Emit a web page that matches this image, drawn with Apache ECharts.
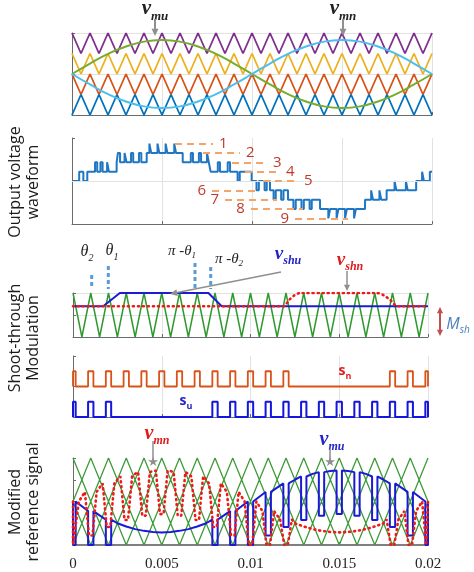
<!DOCTYPE html>
<html>
<head>
<meta charset="utf-8">
<script src="https://cdn.jsdelivr.net/npm/echarts@6/dist/echarts.min.js"></script>
<style>
  html, body { margin: 0; padding: 0; background: #fff; }
  #chart { width: 474px; height: 572px; }
</style>
</head>
<body>
<div id="chart"></div>
<script>
// Time axis is in ms (0..20 ms); tick labels are shown in seconds.
var xTickValues = [0, 5, 10, 15, 20];
var xTickLabels = ['0', '0.005', '0.01', '0.015', '0.02'];

// Carrier vertices (ms), 1 kHz triangle
var carrierT = [0, 0.5, 1, 1.5, 2, 2.5, 3, 3.5, 4, 4.5, 5, 5.5, 6, 6.5, 7, 7.5, 8, 8.5, 9, 9.5,
                10, 10.5, 11, 11.5, 12, 12.5, 13, 13.5, 14, 14.5, 15, 15.5, 16, 16.5, 17, 17.5,
                18, 18.5, 19, 19.5, 20];

// Panel 1: four level-shifted carriers + two references
var topBands = [[3, 4], [2, 3], [1, 2], [0, 1]];
var topPhase = [1, 1, 1, 0];            // 1 = starts on a peak
var sineT = [0, 1, 2, 3, 4, 5, 6, 7, 8, 9, 10, 11, 12, 13, 14, 15, 16, 17, 18, 19, 20];
var vmuTop = [2, 2.51, 2.98, 3.34, 3.58, 3.66, 3.58, 3.34, 2.98, 2.51, 2, 1.49, 1.02, 0.66, 0.42, 0.34, 0.42, 0.66, 1.02, 1.49, 2];
var vmnTop = [2, 1.49, 1.02, 0.66, 0.42, 0.34, 0.42, 0.66, 1.02, 1.49, 2, 2.51, 2.98, 3.34, 3.58, 3.66, 3.58, 3.34, 2.98, 2.51, 2];

// Panel 2: output voltage steps [t, level]
var outSteps = [
  [0, 0], [0.4, 1], [0.63, 0], [0.85, 1], [1.28, 2], [1.4, 1], [1.58, 2], [1.7, 1], [1.95, 2], [2.05, 1],
  [2.48, 2], [2.55, 3], [2.67, 2], [2.92, 3], [3.03, 2], [3.28, 3], [3.4, 2], [3.72, 3], [3.85, 2],
  [4.15, 3], [4.3, 4], [4.4, 3], [4.75, 4], [4.85, 3], [5.2, 4], [5.3, 3], [5.68, 4], [5.78, 3],
  [6.15, 2], [6.6, 3], [6.72, 2], [7.05, 3], [7.17, 2], [7.5, 3], [7.6, 2],
  [7.7, 1], [8.1, 2], [8.22, 1], [8.65, 2], [8.78, 1], [9.2, 0], [9.32, 1],
  [9.98, 0], [10.25, -1], [10.38, 0], [10.7, -1], [10.82, 0],
  [11.0, -1], [11.2, -2], [11.32, -1], [11.62, -2], [11.75, -1],
  [12.0, -2], [12.3, -3], [12.43, -2], [12.75, -3], [12.88, -2], [13.2, -3], [13.32, -2],
  [13.78, -3], [14.24, -4], [14.34, -3], [14.7, -4], [14.8, -3], [15.17, -4], [15.27, -3], [15.67, -4], [15.77, -3],
  [16.28, -2], [16.62, -1], [16.72, -2], [17.08, -1], [17.18, -2],
  [17.48, -1], [17.92, 0], [18.02, -1], [18.55, 0], [18.65, -1],
  [19.12, 0], [19.45, 1], [19.55, 0], [19.88, 1], [20, 1]
];
var levelNames = ['1', '2', '3', '4', '5', '6', '7', '8', '9'];
var levelValues = [4, 3, 2, 1, 0, -1, -2, -3, -4];
var levelFrom = [5.72, 7.28, 8.89, 9.61, 10.61, 7.78, 8.5, 9.94, 12.39];
var levelTo = [7.83, 9.33, 10.83, 11.56, 12.56, 10.28, 11.39, 12.83, 15.33];

// Panel 3: shoot-through references
var shuT = [0, 1.7, 2.64, 7.63, 8.38, 20];
var shuV = [0.7, 0.7, 1, 1, 0.7, 0.7];
var shnT = [0, 11.86, 12.15, 12.45, 12.8, 17.1, 17.5, 17.9, 18.27, 20];
var shnV = [0.7, 0.7, 0.83, 0.94, 1, 1, 0.95, 0.83, 0.7, 0.7];

// Panel 4: shoot-through pulse centres (ms)
var snPulses = [0, 1, 2, 3, 4, 5, 6, 7, 8, 9, 10, 11, 12, 18, 19, 20];
var suPulses = [0, 1, 2, 8, 9, 10, 11, 12, 13, 14, 15, 16, 17, 18, 19, 20];
var pulseHalf = 0.15;

// Panel 5: modified references
var lowBands = [[3, 4], [2, 3], [1, 2], [0, 1]];
var lowPhase = [1, 0, 1, 0];
var refT = carrierT;
var vmnRef = [2, 2.22, 2.44, 2.64, 2.83, 3.0, 3.15, 3.27, 3.35, 3.40, 3.42, 3.40, 3.35, 3.27, 3.15, 3.0, 2.83, 2.64, 2.44, 2.22,
              2.0, 1.78, 1.56, 1.36, 1.17, 1.0, 0.85, 0.73, 0.65, 0.60, 0.58, 0.60, 0.65, 0.73, 0.85, 1.0, 1.17, 1.36, 1.56, 1.78, 2.0];
var vmuRef = [2, 1.78, 1.56, 1.36, 1.17, 1.0, 0.85, 0.73, 0.65, 0.60, 0.58, 0.60, 0.65, 0.73, 0.85, 1.0, 1.17, 1.36, 1.56, 1.78,
              2.0, 2.22, 2.44, 2.64, 2.83, 3.0, 3.15, 3.27, 3.35, 3.40, 3.42, 3.40, 3.35, 3.27, 3.15, 3.0, 2.83, 2.64, 2.44, 2.22, 2.0];
var notchDepth = 2;

// --- helpers ----------------------------------------------------------------

function carrierData(band, startHigh) {
  return carrierT.map(function (t, i) {
    var high = (i % 2 === 0) === !!startHigh;
    return [t, high ? band[1] : band[0]];
  });
}

function zip(ts, vs) {
  return ts.map(function (t, i) { return [t, vs[i]]; });
}

function pulseTrain(centres, lo, hi) {
  var pts = [[0, lo]];
  centres.forEach(function (c) {
    var a = Math.max(0, c - pulseHalf), b = Math.min(20, c + pulseHalf);
    pts.push([a, lo], [a, hi], [b, hi], [b, lo]);
  });
  pts.push([20, lo]);
  return pts;
}

function notched(vals, centres, topHalf, botHalf) {
  var pts = [];
  refT.forEach(function (t, i) {
    var v = vals[i];
    if (centres.indexOf(t) >= 0) {
      var low = Math.max(0, v - notchDepth);
      pts.push([Math.max(0, t - topHalf), v], [Math.max(0, t - botHalf), low],
               [Math.min(20, t + botHalf), low], [Math.min(20, t + topHalf), v]);
    } else {
      pts.push([t, v]);
    }
  });
  return pts;
}

var AXIS = '#6b6b6b';
var GRIDC = '#e2e2e2';

function xAx(i, showLabel) {
  return {
    type: 'value', gridIndex: i, min: 0, max: 20, interval: 5,
    axisLine: { show: true, onZero: false, lineStyle: { color: i === 4 ? '#555' : AXIS, width: i === 4 ? 1.5 : 1 } },
    axisTick: { show: true, inside: true, length: 3, lineStyle: { color: AXIS } },
    axisLabel: showLabel ? {
      show: true, margin: 12, color: '#222', fontSize: 15, fontFamily: '"Liberation Serif", serif',
      formatter: function (v) { var k = xTickValues.indexOf(v); return k >= 0 ? xTickLabels[k] : ''; }
    } : { show: false },
    splitLine: { show: i !== 4, lineStyle: { color: GRIDC } }
  };
}

function yAx(i, min, max, interval, split) {
  return {
    type: 'value', gridIndex: i, min: min, max: max, interval: interval,
    axisLine: { show: true, onZero: false, lineStyle: { color: AXIS } },
    axisTick: { show: true, inside: true, length: 3, lineStyle: { color: AXIS } },
    axisLabel: { show: false },
    splitLine: { show: split, lineStyle: { color: GRIDC } }
  };
}

function line(ax, data, color, width, extra) {
  var s = {
    type: 'line', xAxisIndex: ax, yAxisIndex: ax, data: data, symbol: 'none', silent: true,
    lineStyle: { color: color, width: width }
  };
  return Object.assign(s, extra || {});
}

// --- series -----------------------------------------------------------------

var series = [];
var topColors = ['#7e2f8e', '#edb120', '#d95319', '#0072bd'];
topBands.forEach(function (b, i) {
  series.push(line(0, carrierData(b, topPhase[i]), topColors[i], 1.8));
});
series.push(line(0, zip(sineT, vmuTop), '#77ac30', 2, { smooth: true }));
series.push(line(0, zip(sineT, vmnTop), '#4dbeee', 2, { smooth: true }));

// output voltage with level annotations
var marks = [{ yAxis: 0, lineStyle: { color: GRIDC, type: 'solid', width: 1 }, label: { show: false } }];
levelNames.forEach(function (n, i) {
  marks.push([
    { name: n, coord: [levelFrom[i], levelValues[i]], label: { position: i < 5 ? 'end' : 'start', distance: i < 5 ? 6 : 6 } },
    { coord: [levelTo[i], levelValues[i]] }
  ]);
});
series.push(line(1, outSteps, '#1f77c4', 2, {
  step: 'end', z: 3,
  markLine: {
    silent: true, symbol: ['none', 'none'], animation: false,
    lineStyle: { color: '#f2a56b', type: [7, 5], width: 2 },
    label: { show: true, formatter: '{b}', color: '#c0392b', fontSize: 15, fontFamily: '"Open Sans", sans-serif' },
    data: marks
  }
}));

// shoot-through modulation
series.push(line(2, carrierData([0, 1], 1), '#2e9a2e', 1.5));
series.push(line(2, zip(shuT, shuV), '#1c1cd0', 2));
series.push(line(2, zip(shnT, shnV), '#f01818', 2.6, { smooth: 0.3, lineStyle: { color: '#f01818', width: 2.6, type: [1, 4], cap: 'round' } }));

// switching signals
series.push(line(3, pulseTrain(snPulses, 2, 3), '#d95319', 1.8));
series.push(line(3, pulseTrain(suPulses, 0, 1), '#1515e0', 2));

// modified references
lowBands.forEach(function (b, i) {
  series.push(line(4, carrierData(b, lowPhase[i]), '#3f9b3a', 1.3));
});
series.push(line(4, notched(vmuRef, suPulses, pulseHalf, pulseHalf), '#1a1ad6', 2));
series.push(line(4, notched(vmnRef, snPulses, 0.33, 0.1), '#f01818', 2.6, { lineStyle: { color: '#f01818', width: 2.6, type: [1, 4], cap: 'round' } }));

// --- annotations ------------------------------------------------------------

var SERIF = '"Liberation Serif", "DejaVu Serif", serif';
var SANS = '"Open Sans", "Noto Sans", sans-serif';

function subText(x, y, main, sub, color, size, font, style) {
  return {
    type: 'text', x: x, y: y, z: 100,
    style: {
      text: '{a|' + main + '}{b|' + sub + '}', align: 'center', verticalAlign: 'middle',
      rich: {
        a: { fill: color, fontSize: size, fontFamily: font, fontStyle: style.fontStyle, fontWeight: style.fontWeight, lineHeight: size + 2, verticalAlign: 'top' },
        b: { fill: color, fontSize: Math.round(size * 0.62), fontFamily: font, fontStyle: style.fontStyle, fontWeight: style.fontWeight,
             lineHeight: Math.round(size * 0.62), padding: [Math.round(size * 0.55), 0, 0, 0], verticalAlign: 'top' }
      }
    }
  };
}

function arrow(x1, y1, x2, y2, color, w, head) {
  var a = Math.atan2(y2 - y1, x2 - x1);
  var h = head || 7;
  var p1 = [x2 - h * Math.cos(a - 0.45), y2 - h * Math.sin(a - 0.45)];
  var p2 = [x2 - h * Math.cos(a + 0.45), y2 - h * Math.sin(a + 0.45)];
  return [
    { type: 'line', z: 100, shape: { x1: x1, y1: y1, x2: x2 - 0.6 * h * Math.cos(a), y2: y2 - 0.6 * h * Math.sin(a) }, style: { stroke: color, lineWidth: w } },
    { type: 'polygon', z: 100, shape: { points: [[x2, y2], p1, p2] }, style: { fill: color } }
  ];
}

function vTitle(x, y, text) {
  return {
    type: 'text', x: x, y: y, rotation: Math.PI / 2, z: 100,
    style: { text: text, align: 'center', verticalAlign: 'middle', fill: '#1a1a1a', fontSize: 16, lineHeight: 18, fontFamily: SANS }
  };
}

var bi = { fontStyle: 'italic', fontWeight: 'bold' };
var it = { fontStyle: 'italic', fontWeight: 'normal' };
var GRAY = '#8f8f8f';

var graphics = [];
graphics.push(vTitle(24, 182, 'Output voltage\nwaveform'));
graphics.push(vTitle(24, 338, 'Shoot-through\nModulation'));
graphics.push(vTitle(24, 502, 'Modified\nreference signal'));

// panel 1 labels
graphics.push(subText(155, 10, 'v', 'mu', '#222', 21, SERIF, bi));
graphics.push(subText(343, 10, 'v', 'mn', '#222', 21, SERIF, bi));
graphics = graphics.concat(arrow(155, 19, 155, 36, GRAY, 2, 8));
graphics = graphics.concat(arrow(343, 19, 343, 36, GRAY, 2, 8));

// panel 3 labels
graphics.push(subText(87, 253, 'θ', '2', '#222', 16, SERIF, it));
graphics.push(subText(112, 252, 'θ', '1', '#222', 16, SERIF, it));
graphics.push(subText(182, 252, 'π -θ', '1', '#222', 15, SERIF, it));
graphics.push(subText(229, 260, 'π -θ', '2', '#222', 15, SERIF, it));
[[91.7, 275], [108.3, 266], [195, 263], [210.7, 267]].forEach(function (m) {
  graphics.push({ type: 'line', z: 100, shape: { x1: m[0], y1: m[1], x2: m[0], y2: 289 },
                  style: { stroke: '#5b9bd5', lineWidth: 3, lineDash: [4, 3] } });
});
graphics.push(subText(288, 255, 'v', 'shu', '#2323c8', 19, SERIF, bi));
graphics.push(subText(350, 261, 'v', 'shn', '#e01b1b', 19, SERIF, bi));
graphics = graphics.concat(arrow(281, 272, 170, 294, GRAY, 1.5, 8));
graphics = graphics.concat(arrow(347, 271, 347, 291, GRAY, 1.5, 7));
graphics = graphics.concat(arrow(440, 322, 440, 307, '#c0504d', 2, 7));
graphics = graphics.concat(arrow(440, 321, 440, 336, '#c0504d', 2, 7));
graphics.push(subText(458, 325, 'M', 'sh', '#4a7ebb', 16, SANS, it));

// panel 4 labels
graphics.push(subText(345, 372, 's', 'n', '#e01b1b', 14, SANS, { fontStyle: 'normal', fontWeight: 'bold' }));
graphics.push(subText(186, 402, 's', 'u', '#2323c8', 14, SANS, { fontStyle: 'normal', fontWeight: 'bold' }));

// panel 5 labels
graphics.push(subText(157, 435, 'v', 'mn', '#e01b1b', 20, SERIF, bi));
graphics.push(subText(332, 441, 'v', 'mu', '#2323c8', 20, SERIF, bi));
graphics.push({ type: 'line', z: 100, shape: { x1: 153, y1: 441, x2: 153, y2: 460 }, style: { stroke: GRAY, lineWidth: 1.5 } });
graphics.push({ type: 'line', z: 100, shape: { x1: 330, y1: 449, x2: 330, y2: 460 }, style: { stroke: GRAY, lineWidth: 1.5 } });
graphics.push({ type: 'text', z: 100, x: 153, y: 463, style: { text: '★', fill: GRAY, fontSize: 13, align: 'center', verticalAlign: 'middle', fontFamily: '"DejaVu Sans"' } });
graphics.push({ type: 'text', z: 100, x: 330, y: 463, style: { text: '★', fill: GRAY, fontSize: 13, align: 'center', verticalAlign: 'middle', fontFamily: '"DejaVu Sans"' } });

// --- chart ------------------------------------------------------------------

var chart = echarts.init(document.getElementById('chart'), null, { renderer: 'canvas' });
chart.setOption({
  backgroundColor: '#ffffff',
  animation: false,
  grid: [
    { left: 72, top: 33, width: 360, height: 82 },
    { left: 72, top: 138, width: 360, height: 86 },
    { left: 73, top: 293, width: 355, height: 44 },
    { left: 73, top: 356, width: 355, height: 61 },
    { left: 73, top: 458, width: 355, height: 89 }
  ],
  xAxis: [xAx(0, false), xAx(1, false), xAx(2, false), xAx(3, false), xAx(4, true)],
  yAxis: [
    yAx(0, 0, 4, 2, true),
    yAx(1, -4.6, 4.6, 4.6, false),
    yAx(2, 0, 1, 0.5, true),
    yAx(3, 0, 4, 2, false),
    yAx(4, 0, 4, 1, false)
  ],
  series: series,
  graphic: graphics
});
</script>
</body>
</html>
